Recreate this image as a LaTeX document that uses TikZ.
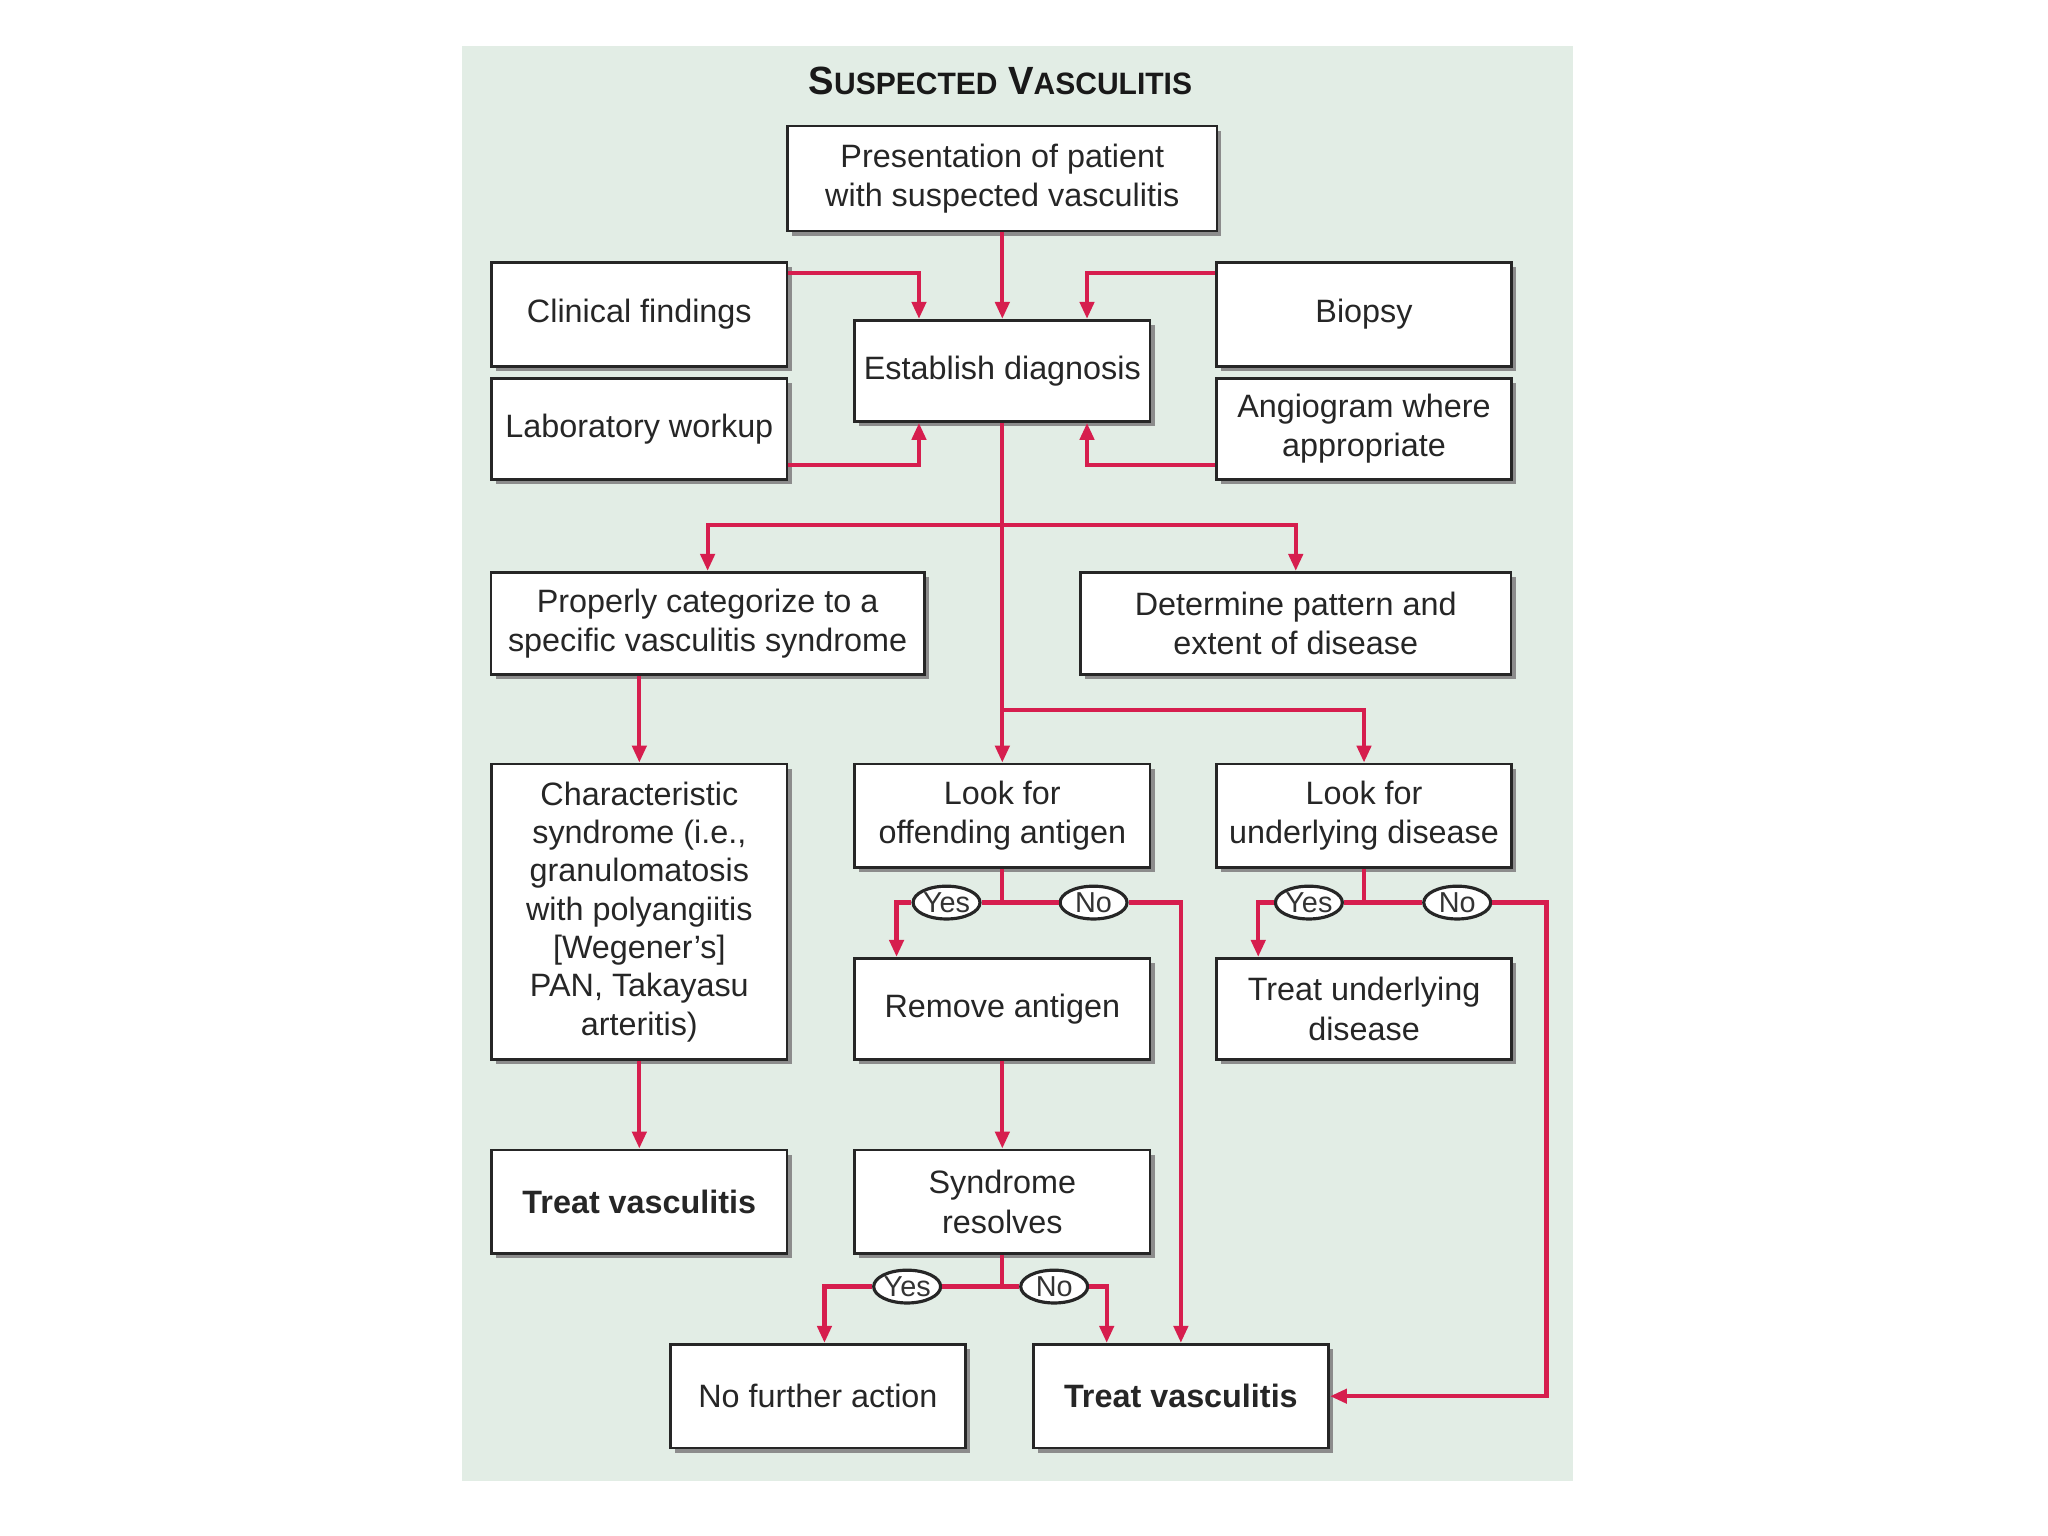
\documentclass[tikz,border=0pt]{standalone}
\usepackage{fontspec}
\setmainfont{Liberation Sans}
\usetikzlibrary{arrows.meta,shadows,shapes.geometric}
\definecolor{bgpanel}{RGB}{226,237,229}
\definecolor{linkred}{RGB}{214,30,78}
\def\pxu{0.013128cm}
\begin{document}
\begin{tikzpicture}[x=0.013128cm, y=-0.013128cm,
  box/.style={draw=black!85, line width=0.8pt, fill=white, align=center, inner sep=2pt,
    text=black!85, font=\fontsize{9.2}{11.2}\selectfont,
    drop shadow={shadow xshift=0.045cm, shadow yshift=-0.045cm, fill=black!45, opacity=1}},
  wbox/.style={box, minimum width=225*\pxu, minimum height=78*\pxu},
  yn/.style={ellipse, draw=black!85, line width=0.9pt, fill=white, inner sep=0pt,
    minimum width=51*\pxu, minimum height=25*\pxu, text=black!80, font=\fontsize{8.2}{9}\selectfont},
  ln/.style={draw=linkred, line width=1.2pt},
  arr/.style={ln, -{Triangle[length=0.17cm,width=0.14cm]}}]
\useasboundingbox (0,0) rectangle (1560,1170);
\fill[bgpanel] (352,35) rectangle (1198,1128);
\node[text=black!90, xscale=0.97] (title) at (762,62) {\bfseries\fontsize{11.2}{12}\selectfont S{\fontsize{8.8}{10}\selectfont USPECTED} V{\fontsize{8.8}{10}\selectfont ASCULITIS}};
% boxes
\node[box, minimum width=327*\pxu, minimum height=80*\pxu] (pres) at (763.5,136) {Presentation of patient\\with suspected vasculitis};
\node[wbox, minimum height=79*\pxu] (clin) at (487,239.5) {Clinical findings};
\node[wbox, minimum height=77*\pxu] (lab) at (487,326.5) {Laboratory workup};
\node[wbox, minimum height=77*\pxu] (est) at (763.5,282.5) {Establish diagnosis};
\node[wbox, minimum height=79*\pxu] (biop) at (1039,239.5) {Biopsy};
\node[wbox, minimum height=77*\pxu] (angio) at (1039,326.5) {Angiogram where\\appropriate};
\node[box, minimum width=330*\pxu, minimum height=78*\pxu] (prop) at (539,475) {Properly categorize to a\\specific vasculitis syndrome};
\node[box, minimum width=328*\pxu, minimum height=78*\pxu] (det) at (987,475) {Determine pattern and\\extent of disease};
\node[box, minimum width=225*\pxu, minimum height=225*\pxu, font=\fontsize{9.2}{10.9}\selectfont] (char) at (487,694.5) {Characteristic\\syndrome (i.e.,\\granulomatosis\\with polyangiitis\\{[}Wegener's{]}\\PAN, Takayasu\\arteritis)};
\node[wbox, minimum height=79*\pxu] (lookA) at (763.5,621.5) {Look for\\offending antigen};
\node[wbox, minimum height=79*\pxu] (lookU) at (1039,621.5) {Look for\\underlying disease};
\node[wbox, minimum height=77*\pxu] (remove) at (763.5,768.5) {Remove antigen};
\node[wbox, minimum height=77*\pxu] (treatU) at (1039,768.5) {Treat underlying\\disease};
\node[wbox, minimum height=79*\pxu] (treatL) at (487,915.5) {\bfseries Treat vasculitis};
\node[wbox, minimum height=79*\pxu] (synd) at (763.5,915.5) {Syndrome\\resolves};
\node[wbox, minimum height=79*\pxu] (nofur) at (623,1063.5) {No further action};
\node[wbox, minimum height=79*\pxu] (treatB) at (899.5,1063.5) {\bfseries Treat vasculitis};
% yes/no ellipses
\node[yn] (yesA) at (721,687.5) {Yes};
\node[yn] (noA) at (833,687.5) {No};
\node[yn] (yesU) at (997,687.5) {Yes};
\node[yn] (noU) at (1110,687.5) {No};
\node[yn] (yesS) at (691,980) {Yes};
\node[yn] (noS) at (803,980) {No};
% junctions
\coordinate (b1) at (763.5,400);
\coordinate (b2) at (763.5,541);
% connectors
\draw[arr] (pres.south) -- (est.north);
\draw[arr] ([yshift=-9*\pxu]clin.north east) -| ([xshift=-63.5*\pxu]est.north);
\draw[arr] ([yshift=12*\pxu]lab.south east) -| ([xshift=-63.5*\pxu]est.south);
\draw[arr] ([yshift=-9*\pxu]biop.north west) -| ([xshift=64.5*\pxu]est.north);
\draw[arr] ([yshift=12*\pxu]angio.south west) -| ([xshift=64.5*\pxu]est.south);
\draw[arr] (est.south) -- (lookA.north);
\draw[arr] (b1) -| (prop.north);
\draw[arr] (b1) -| (det.north);
\draw[arr] (b2) -| (lookU.north);
\draw[arr] (char.north |- prop.south) -- (char.north);
\draw[arr] (char.south) -- (treatL.north);
% antigen branch
\draw[ln] (lookA.south) -- (lookA.south |- yesA);
\draw[ln] (yesA.east) -- (noA.west);
\draw[arr] (yesA.west) -| ([xshift=33*\pxu]remove.north west);
\draw[arr] (noA.east) -| (treatB.north);
% underlying branch
\draw[ln] (lookU.south) -- (lookU.south |- yesU);
\draw[ln] (yesU.east) -- (noU.west);
\draw[arr] (yesU.west) -| ([xshift=33*\pxu]treatU.north west);
\draw[arr] (noU.east) -| ([xshift=165*\pxu]treatB.east) -- (treatB.east);
% remove -> syndrome
\draw[arr] (remove.south) -- (synd.north);
\draw[ln] (synd.south) -- (synd.south |- yesS);
\draw[ln] (yesS.east) -- (noS.west);
\draw[arr] (yesS.west) -| ([xshift=5*\pxu]nofur.north);
\draw[arr] (noS.east) -| ([xshift=-56.5*\pxu]treatB.north);
\end{tikzpicture}
\end{document}
